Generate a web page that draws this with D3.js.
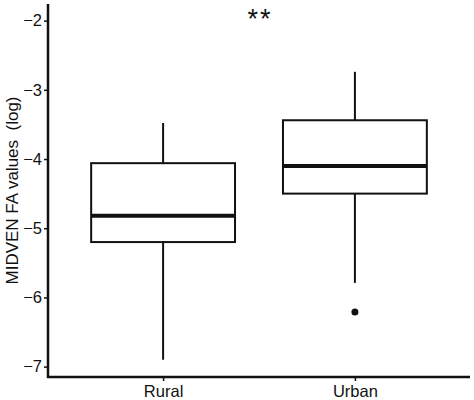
<!DOCTYPE html>
<html>
<head>
<meta charset="utf-8">
<script src="https://cdn.jsdelivr.net/npm/d3@7"></script>
<style>
  body { margin: 0; background: #fff; }
  text { font-family: "Liberation Sans", Arial, sans-serif; fill: #111; }
</style>
</head>
<body>
<svg class="chart"></svg>
<script>
var groups = ['Rural', 'Urban'];
var q1 = [-5.20, -4.50];
var medians = [-4.82, -4.10];
var q3 = [-4.06, -3.44];
var whiskerLow = [-6.90, -5.79];
var whiskerHigh = [-3.48, -2.74];
var outliers = [{group: 'Urban', value: -6.21}];
var yTicks = [-7, -6, -5, -4, -3, -2];

var margin = {top: 4, right: 4, bottom: 23, left: 48},
    width = 474 - margin.left - margin.right,
    height = 400 - margin.top - margin.bottom;

var data = groups.map(function(g, i) {
  return {group: g, q1: q1[i], med: medians[i], q3: q3[i], lo: whiskerLow[i], hi: whiskerHigh[i]};
});

// ggplot-style discrete positions: 1..n inside [0.4, n+0.6]
var xPos = d3.scaleLinear().domain([0.4, groups.length + 0.6]).range([0, width]);
var boxW = xPos(1.375) - xPos(1);

var y = d3.scaleLinear()
    .domain([-7.15, -1.76])
    .range([height, 0]);

var svg = d3.select(".chart")
    .attr("width", 474)
    .attr("height", 400);

var chart = svg.append("g")
    .attr("transform", "translate(" + margin.left + "," + margin.top + ")");

var box = chart.selectAll("g.box")
    .data(data)
  .enter().append("g")
    .attr("class", "box")
    .attr("transform", function(d, i) { return "translate(" + xPos(i + 1) + ",0)"; });

box.append("line")
    .attr("x1", 0).attr("x2", 0)
    .attr("y1", function(d) { return y(d.hi); })
    .attr("y2", function(d) { return y(d.q3); })
    .attr("stroke", "#111").attr("stroke-width", 2);

box.append("line")
    .attr("x1", 0).attr("x2", 0)
    .attr("y1", function(d) { return y(d.q1); })
    .attr("y2", function(d) { return y(d.lo); })
    .attr("stroke", "#111").attr("stroke-width", 2);

box.append("rect")
    .attr("x", -boxW)
    .attr("width", boxW * 2)
    .attr("y", function(d) { return y(d.q3); })
    .attr("height", function(d) { return y(d.q1) - y(d.q3); })
    .attr("fill", "#fff")
    .attr("stroke", "#111")
    .attr("stroke-width", 2);

box.append("line")
    .attr("x1", -boxW).attr("x2", boxW)
    .attr("y1", function(d) { return y(d.med); })
    .attr("y2", function(d) { return y(d.med); })
    .attr("stroke", "#111").attr("stroke-width", 4);

chart.selectAll("circle.outlier")
    .data(outliers)
  .enter().append("circle")
    .attr("class", "outlier")
    .attr("cx", function(d) { return xPos(groups.indexOf(d.group) + 1); })
    .attr("cy", function(d) { return y(d.value); })
    .attr("r", 3.5)
    .attr("fill", "#111");

// axes
var yAxis = chart.append("g")
    .call(d3.axisLeft(y).tickValues(yTicks).tickSize(4).tickPadding(2)
      .tickFormat(function(d) { return String(d).replace("-", "\u2212"); }));
yAxis.select(".domain").remove();
yAxis.selectAll(".tick line").attr("stroke", "#111").attr("stroke-width", 1.5);
yAxis.selectAll("text").style("font-size", "16.5px");

var xAxis = chart.append("g")
    .attr("transform", "translate(0," + height + ")")
    .call(d3.axisBottom(xPos).tickValues([1, 2]).tickSize(4).tickPadding(4)
      .tickFormat(function(d) { return groups[d - 1]; }));
xAxis.select(".domain").remove();
xAxis.selectAll(".tick line").attr("stroke", "#111").attr("stroke-width", 1.5);
xAxis.selectAll("text").style("font-size", "16.5px");

chart.append("line")
    .attr("x1", 0).attr("x2", 0).attr("y1", 0).attr("y2", height + 1)
    .attr("stroke", "#111").attr("stroke-width", 2.5);
chart.append("line")
    .attr("x1", -1).attr("x2", width).attr("y1", height).attr("y2", height)
    .attr("stroke", "#111").attr("stroke-width", 2.5);

// significance marker
chart.append("text")
    .attr("x", xPos(1.5) + 1)
    .attr("y", 24)
    .attr("text-anchor", "middle")
    .style("font-size", "27px")
    .style("letter-spacing", "2px")
    .text("**");

svg.append("text")
    .attr("transform", "translate(18," + (margin.top + height / 2) + ") rotate(-90)")
    .attr("text-anchor", "middle")
    .style("font-size", "17px")
    .style("white-space", "pre")
    .text("MIDVEN FA values  (log)");
</script>
</body>
</html>
